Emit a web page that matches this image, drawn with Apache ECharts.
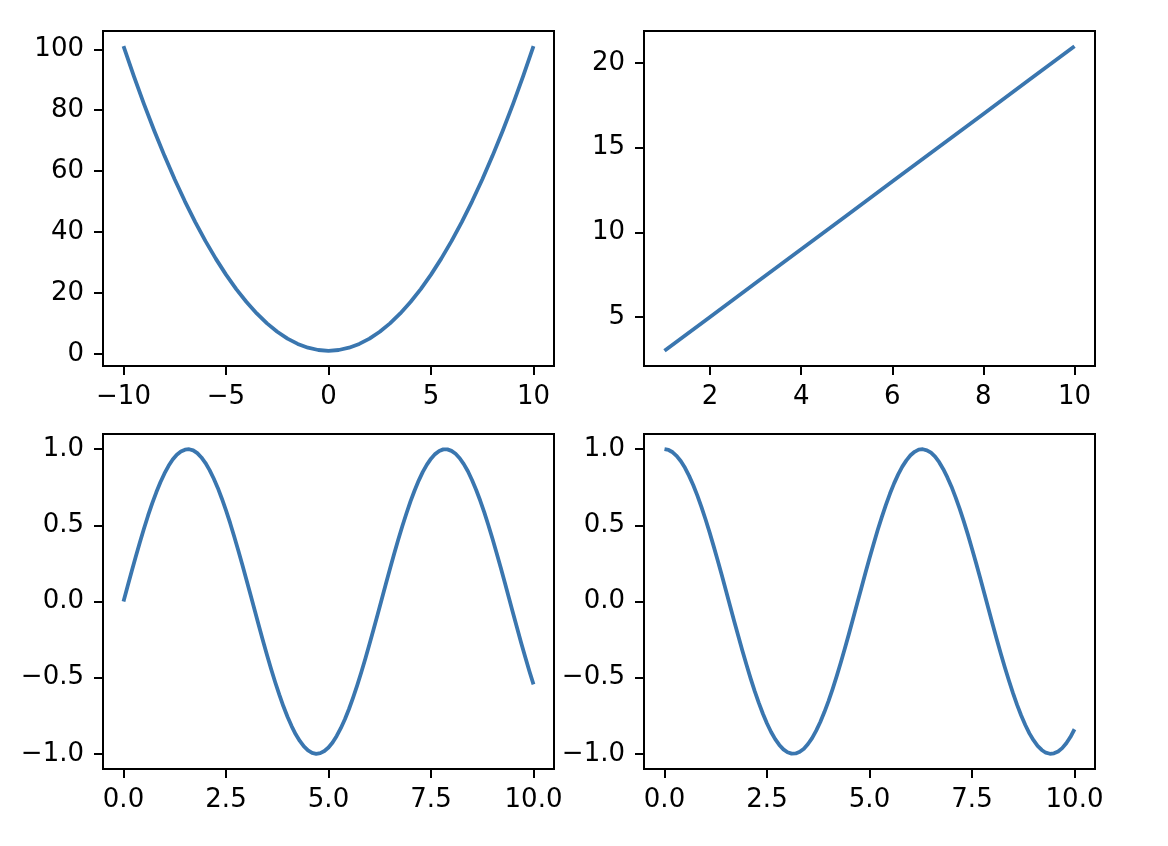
<!DOCTYPE html>
<html>
<head>
<meta charset="utf-8">
<script src="https://cdn.jsdelivr.net/npm/echarts@6/dist/echarts.min.js"></script>
<style>
html,body{margin:0;padding:0;background:#fff;}
#chart{width:1168px;height:846px;}
</style>
</head>
<body>
<div id="chart"></div>
<script>
// ---- data ----
var parabolaX = [-10,-9.5,-9,-8.5,-8,-7.5,-7,-6.5,-6,-5.5,-5,-4.5,-4,-3.5,-3,-2.5,-2,-1.5,-1,-0.5,
  0,0.5,1,1.5,2,2.5,3,3.5,4,4.5,5,5.5,6,6.5,7,7.5,8,8.5,9,9.5,10];
var parabolaY = [101,91.25,82,73.25,65,57.25,50,43.25,37,31.25,26,21.25,17,13.25,10,7.25,5,3.25,2,1.25,
  1,1.25,2,3.25,5,7.25,10,13.25,17,21.25,26,31.25,37,43.25,50,57.25,65,73.25,82,91.25,101];

var lineX = [1,2,3,4,5,6,7,8,9,10];
var lineY = [3,5,7,9,11,13,15,17,19,21];

var waveX = [0,0.1,0.2,0.3,0.4,0.5,0.6,0.7,0.8,0.9,1,1.1,1.2,1.3,1.4,1.5,1.6,1.7,1.8,1.9,
  2,2.1,2.2,2.3,2.4,2.5,2.6,2.7,2.8,2.9,3,3.1,3.2,3.3,3.4,3.5,3.6,3.7,3.8,3.9,
  4,4.1,4.2,4.3,4.4,4.5,4.6,4.7,4.8,4.9,5,5.1,5.2,5.3,5.4,5.5,5.6,5.7,5.8,5.9,
  6,6.1,6.2,6.3,6.4,6.5,6.6,6.7,6.8,6.9,7,7.1,7.2,7.3,7.4,7.5,7.6,7.7,7.8,7.9,
  8,8.1,8.2,8.3,8.4,8.5,8.6,8.7,8.8,8.9,9,9.1,9.2,9.3,9.4,9.5,9.6,9.7,9.8,9.9,10];

var sinY = [0.000,0.100,0.199,0.296,0.389,0.479,0.565,0.644,0.717,0.783,
  0.841,0.891,0.932,0.964,0.985,0.997,1.000,0.992,0.974,0.946,
  0.909,0.863,0.808,0.746,0.675,0.598,0.516,0.427,0.335,0.239,
  0.141,0.042,-0.058,-0.158,-0.256,-0.351,-0.443,-0.530,-0.612,-0.688,
  -0.757,-0.818,-0.872,-0.916,-0.952,-0.978,-0.994,-1.000,-0.996,-0.982,
  -0.959,-0.926,-0.883,-0.832,-0.773,-0.706,-0.631,-0.551,-0.465,-0.374,
  -0.279,-0.182,-0.083,0.017,0.117,0.215,0.312,0.405,0.494,0.578,
  0.657,0.729,0.794,0.851,0.899,0.938,0.968,0.988,0.999,0.999,
  0.989,0.970,0.941,0.902,0.855,0.798,0.734,0.663,0.585,0.501,
  0.412,0.319,0.223,0.124,0.025,-0.075,-0.174,-0.272,-0.366,-0.458,-0.544];

var cosY = [1.000,0.995,0.980,0.955,0.921,0.878,0.825,0.765,0.697,0.622,
  0.540,0.454,0.362,0.267,0.170,0.071,-0.029,-0.129,-0.227,-0.323,
  -0.416,-0.505,-0.589,-0.666,-0.737,-0.801,-0.857,-0.904,-0.942,-0.971,
  -0.990,-0.999,-0.998,-0.987,-0.967,-0.936,-0.897,-0.848,-0.791,-0.726,
  -0.654,-0.575,-0.490,-0.401,-0.307,-0.211,-0.112,-0.012,0.087,0.187,
  0.284,0.378,0.469,0.554,0.635,0.709,0.776,0.835,0.886,0.927,
  0.960,0.983,0.997,1.000,0.993,0.977,0.951,0.915,0.869,0.815,
  0.754,0.684,0.608,0.526,0.439,0.347,0.252,0.154,0.054,-0.046,
  -0.146,-0.245,-0.340,-0.432,-0.519,-0.602,-0.679,-0.749,-0.811,-0.866,
  -0.911,-0.948,-0.975,-0.993,-1.000,-0.997,-0.985,-0.963,-0.931,-0.890,-0.839];

// tick values
var ticksX0 = [-10,-5,0,5,10];
var ticksY0 = [0,20,40,60,80,100];
var ticksX1 = [2,4,6,8,10];
var ticksY1 = [5,10,15,20];
var ticksWaveX = [0,2.5,5,7.5,10];
var ticksWaveY = [-1,-0.5,0,0.5,1];

// ---- chart ----
function pairs(xs, ys){ return xs.map(function(x,i){ return [x, ys[i]]; }); }
function minusFmt(v){ return String(v).replace('-', '\u2212'); }
function fixed1(v){ return Number(v).toFixed(1).replace('-', '\u2212'); }

var FONT = 'DejaVu Sans';
var LINE_COLOR = '#3a76af';

function makeAxis(idx, isX, min, max, ticks, fmt){
  return {
    type: 'value',
    gridIndex: idx,
    min: min, max: max,
    position: isX ? 'bottom' : 'left',
    axisLine: {show: false, onZero: false},
    splitLine: {show: false},
    axisTick: {show: true, inside: false, length: 9, lineStyle: {color: '#000', width: 2}, customValues: ticks},
    axisLabel: {
      show: true, customValues: ticks, formatter: fmt,
      color: '#000', fontFamily: FONT, fontSize: 26,
      margin: isX ? 18 : 19
    }
  };
}

var grids = [
  {left: 103, top: 31, width: 451, height: 335},
  {left: 644, top: 31, width: 451, height: 335},
  {left: 103, top: 434, width: 451, height: 335},
  {left: 644, top: 434, width: 451, height: 335}
].map(function(g){
  g.show = true; g.borderColor = '#000'; g.borderWidth = 2; g.backgroundColor = 'transparent';
  g.containLabel = false;
  return g;
});

function lineSeries(idx, data){
  return {
    type: 'line', xAxisIndex: idx, yAxisIndex: idx,
    data: data, showSymbol: false, symbol: 'none', smooth: false,
    lineStyle: {color: LINE_COLOR, width: 3.8, cap: 'butt', join: 'round'},
    animation: false, silent: true
  };
}

var option = {
  backgroundColor: '#fff',
  animation: false,
  grid: grids,
  xAxis: [
    makeAxis(0, true, -11, 11, ticksX0, minusFmt),
    makeAxis(1, true, 0.55, 10.45, ticksX1, minusFmt),
    makeAxis(2, true, -0.5, 10.5, ticksWaveX, fixed1),
    makeAxis(3, true, -0.5, 10.5, ticksWaveX, fixed1)
  ],
  yAxis: [
    makeAxis(0, false, -4, 106, ticksY0, minusFmt),
    makeAxis(1, false, 2.1, 21.9, ticksY1, minusFmt),
    makeAxis(2, false, -1.1, 1.1, ticksWaveY, fixed1),
    makeAxis(3, false, -1.1, 1.1, ticksWaveY, fixed1)
  ],
  series: [
    lineSeries(0, pairs(parabolaX, parabolaY)),
    lineSeries(1, pairs(lineX, lineY)),
    lineSeries(2, pairs(waveX, sinY)),
    lineSeries(3, pairs(waveX, cosY))
  ]
};

var chart = echarts.init(document.getElementById('chart'), null, {renderer: 'canvas'});
chart.setOption(option);
</script>
</body>
</html>
